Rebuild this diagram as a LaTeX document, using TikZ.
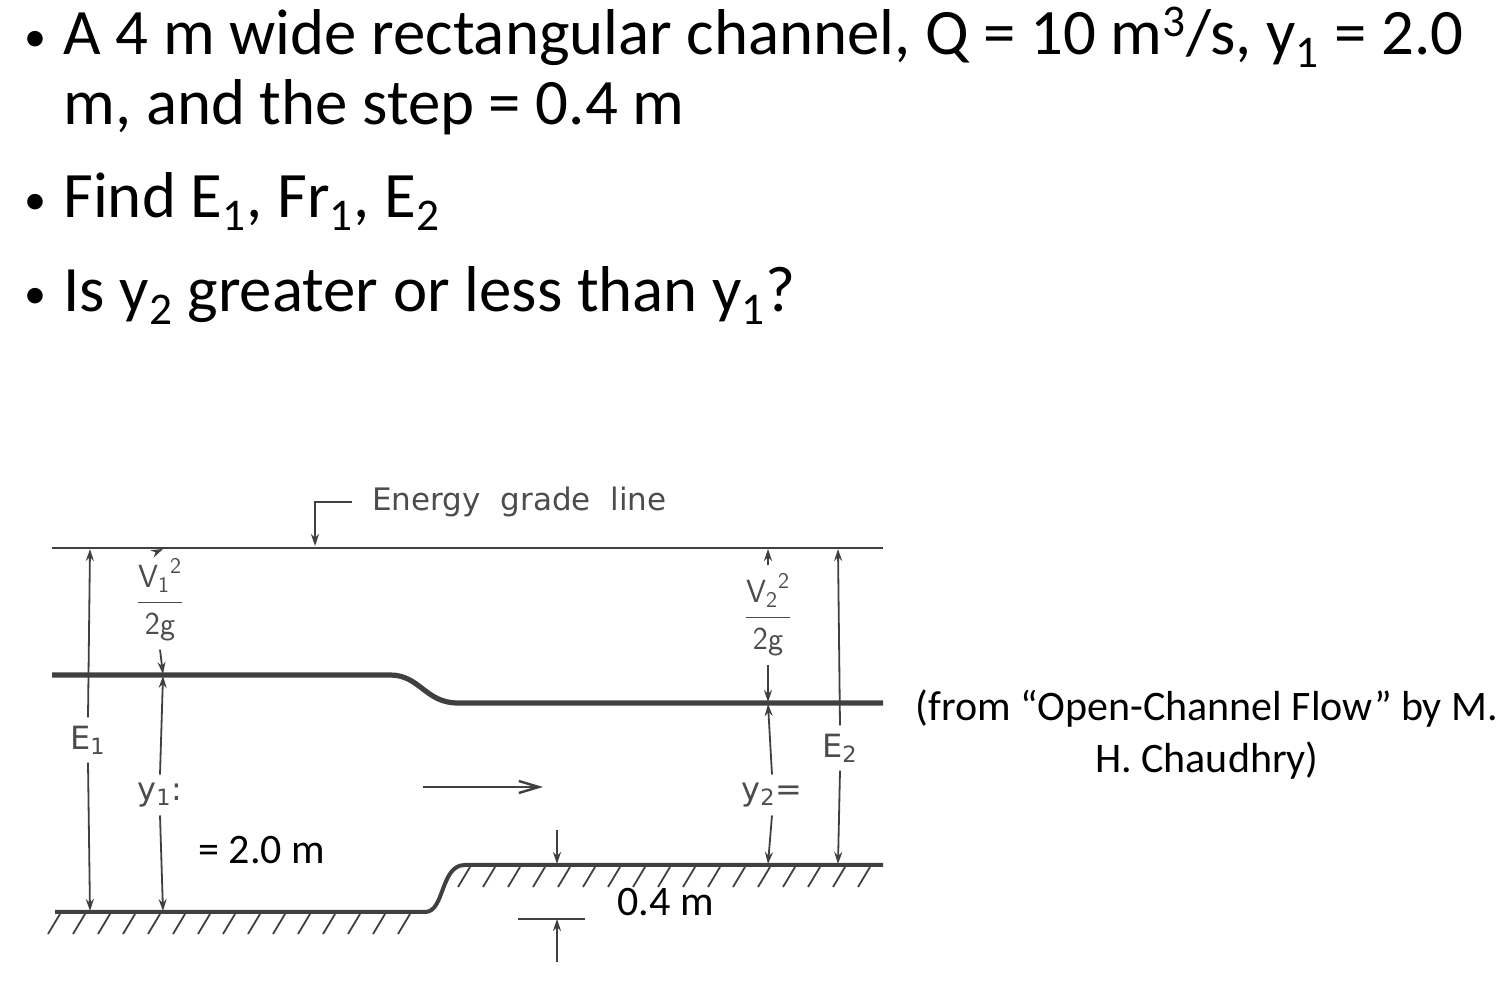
\documentclass[tikz,border=0pt]{standalone}
\usepackage{fontspec}
\setmainfont{Carlito}
\newfontfamily\figfont{DejaVu Sans}
\usetikzlibrary{arrows.meta}
\begin{document}
\begin{tikzpicture}[x=0.5pt,y=-0.5pt,
  thin line/.style={line width=1.2pt,draw=black!75},
  thick line/.style={line width=2.6pt,draw=black!75},
  dim/.style={line width=0.9pt,draw=black!75,-{Stealth[length=6pt,width=4pt]}},
  lab/.style={font=\figfont\fontsize{16}{18}\selectfont,text=black!70,inner sep=4pt},
  bul/.style={font=\fontsize{32.4}{38}\selectfont,anchor=base west,inner sep=0pt},
  txt/.style={font=\fontsize{21}{25}\selectfont,inner sep=0pt}]
\useasboundingbox (0,0) rectangle (1506,983);
% bullets
\node[bul,font=\fontsize{22}{26}\selectfont] (b1) at (24,52) {•};
\node[bul] (t1) at (63,55) {A 4 m wide rectangular channel, Q = 10 m\textsuperscript{3}/s, y\textsubscript{1} = 2.0};
\node[bul] (t1b) at (63,125) {m, and the step = 0.4 m};
\node[bul,font=\fontsize{22}{26}\selectfont] (b2) at (24,215) {•};
\node[bul] (t2) at (63,218) {Find E\textsubscript{1}, Fr\textsubscript{1}, E\textsubscript{2}};
\node[bul,font=\fontsize{22}{26}\selectfont] (b3) at (24,309) {•};
\node[bul] (t3) at (63,312) {Is y\textsubscript{2} greater or less than y\textsubscript{1}?};
% EGL
\coordinate (egl0) at (52,548); \coordinate (egl1) at (883,548);
\draw[thin line] (egl0) -- (egl1);
\node[lab,anchor=west,inner sep=1pt,font=\figfont\fontsize{15.5}{18}\selectfont] (egltxt) at (370,502) {Energy\ \ grade\ \ line};
\coordinate (p1) at (352,502); \coordinate (p2) at (315,502); \coordinate (p3) at (315,546);
\draw[dim] (p1) -- (p2) -- (p3);
% water surface
\draw[thick line] (52,675) -- (390,675) .. controls (420,675) and (425,703) .. (458,703) -- (883,703);
% bed
\draw[thick line,line width=2pt] (55,912) -- (425,912) .. controls (445,912) and (440,865) .. (465,865) -- (883,865);
\foreach \x in {60,85,...,430} \draw[thin line,line width=0.9pt] (\x,914) -- (\x-12,934);
\foreach \x in {470,495,...,880} \draw[thin line,line width=0.9pt] (\x,867) -- (\x-12,887);
\draw[thin line,line width=0.9pt] (450,875) -- (440,895);
% E1
\node[lab] (E1) at (88,740) {E\textsubscript{1}};
\draw[dim] (E1.north) -- (90,549);
\draw[dim] (E1.south) -- (90,911);
% V1
\node[lab] (v1) at (160,600) {$\displaystyle\frac{\mathsf{V_1}^{\mathsf{2}}}{\mathsf{2g}}$};
\draw[dim] (v1.north) -- (163,549);
\draw[dim] (v1.south) -- (163,674);
\node[lab] (y1) at (160,795) {y\textsubscript{1}:};
\draw[dim] (y1.north) -- (163,676);
\draw[dim] (y1.south) -- (163,911);
% V2
\node[lab] (v2) at (768,615) {$\displaystyle\frac{\mathsf{V_2}^{\mathsf{2}}}{\mathsf{2g}}$};
\draw[dim] (v2.north) -- (768,549);
\draw[dim] (v2.south) -- (768,702);
\node[lab] (y2) at (772,795) {y\textsubscript{2}=};
\draw[dim] (y2.north) -- (768,704);
\draw[dim] (y2.south) -- (768,864);
% E2
\node[lab] (E2) at (840,748) {E\textsubscript{2}};
\draw[dim] (E2.north) -- (838,549);
\draw[dim] (E2.south) -- (838,864);
% flow arrow
\coordinate (f0) at (423,787); \coordinate (f1) at (543,787);
\draw[thin line,-{Straight Barb[length=10pt,width=6pt]}] (f0) -- (f1);
% step dimension
\coordinate (s0) at (557,830); \coordinate (s1) at (557,864);
\draw[dim] (s0) -- (s1);
\coordinate (s2) at (557,962); \coordinate (s3) at (557,919);
\draw[dim] (s2) -- (s3);
\draw[thin line,line width=0.9pt] (518,919) -- (585,919);
% labels
\node[txt,anchor=west] (d1) at (198,850) {= 2.0 m};
\node[txt,anchor=west] (d2) at (617,902) {0.4 m};
\node[txt,align=center] (src) at (1207,735) {(from “Open-Channel Flow” by M.\\[1pt] H. Chaudhry)};
\end{tikzpicture}
\end{document}
